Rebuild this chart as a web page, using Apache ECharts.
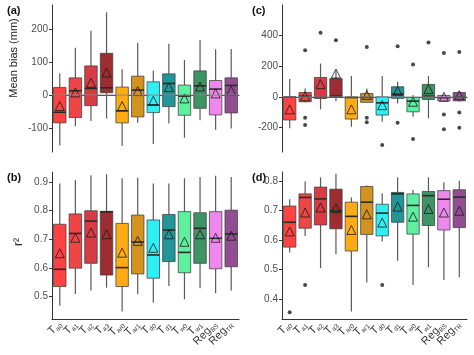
<!DOCTYPE html>
<html><head><meta charset="utf-8">
<script src="https://cdn.jsdelivr.net/npm/echarts@6/dist/echarts.min.js"></script>
<style>html,body{margin:0;padding:0;background:#fff}#c{width:474px;height:355px}</style>
</head><body><div id="c"></div>
<script>
// Categories: [main letter, subscript]
const categories = [['T','a0'],['T','a1'],['T','a2'],['T','a3'],['T','ar0'],['T','ar1'],['T','d0'],['T','d1'],['T','w0'],['T','w1'],['Reg','BS'],['Reg','TR']];
const boxColors = ['#FF3333','#EE3535','#D42A33','#951B1F','#FFA500','#CF8A0C','#1CEEF2','#0E8C8F','#50EE98','#2E8B57','#EE7EEA','#8A3F8A'];

// Panel (a): Mean bias (mm) — [lower whisker, Q1, median, Q3, upper whisker]
const biasA = [[-152,-84,-52,23,65],[-94,-68,13,52,143],[-78,-32,20,88,194],[-71,7,22,126,250],[-154,-84,-48,24,78],[-84,-66,15,57,158],[-148,-53,-30,40,74],[-86,-35,35,64,155],[-129,-61,-3,30,106],[-76,-40,28,73,166],[-105,-60,18,44,138],[-101,-54,29,52,139]];
const meanA = [-33,8,37,68,-33,12,-17,24,-10,26,5,13];
const outA = [];

// Panel (b): r2
const r2B = [[0.468,0.535,0.595,0.752,0.894],[0.509,0.599,0.72,0.788,0.906],[0.521,0.616,0.763,0.799,0.923],[0.531,0.575,0.795,0.797,0.926],[0.448,0.535,0.601,0.755,0.912],[0.509,0.579,0.69,0.784,0.914],[0.479,0.564,0.645,0.767,0.894],[0.537,0.622,0.732,0.786,0.894],[0.491,0.583,0.654,0.796,0.912],[0.529,0.616,0.738,0.792,0.917],[0.512,0.597,0.703,0.796,0.921],[0.521,0.604,0.718,0.801,0.917]];
const meanB = [0.651,0.705,0.723,0.717,0.653,0.694,0.670,0.717,0.691,0.717,0.705,0.712];
const outB = [];

// Panel (c): Mean bias (mm)
const biasC = [[-204,-150,-2,0,116],[-36,-32,4,28,54],[-81,-10,-4,125,215],[-28,0,5,118,168],[-193,-144,-5,0,135],[-40,-36,-4,22,54],[-161,-118,-39,0,134],[-43,-10,17,65,97],[-129,-97,-28,-4,11],[-139,-17,4,80,134],[-32,-26,-6,9,14],[-32,-26,0,28,36]];
const meanC = [-81,4,82,151,-81,11,-54,37,-32,50,0,11];
const outC = [[1,301],[1,-135],[1,-183],[2,415],[3,366],[5,322],[5,-135],[5,-165],[6,-312],[7,327],[7,-168],[8,209],[8,-273],[9,351],[10,284],[10,-114],[10,-210],[11,290],[11,-101],[11,-200]];

// Panel (d): r2
const r2D = [[0.558,0.576,0.660,0.715,0.738],[0.614,0.640,0.744,0.756,0.798],[0.505,0.651,0.739,0.779,0.812],[0.552,0.638,0.699,0.772,0.824],[0.358,0.563,0.68,0.728,0.744],[0.456,0.619,0.728,0.781,0.784],[0.595,0.614,0.691,0.721,0.758],[0.530,0.660,0.756,0.761,0.812],[0.448,0.620,0.717,0.756,0.770],[0.508,0.649,0.750,0.764,0.812],[0.465,0.634,0.738,0.767,0.795],[0.474,0.642,0.745,0.770,0.800]];
const meanD = [0.629,0.693,0.710,0.708,0.634,0.687,0.659,0.713,0.679,0.705,0.693,0.699];
const outD = [[0,0.356],[1,0.448],[6,0.448]];

const ticksA = [-100,0,100,200];
const ticksB = [0.5,0.6,0.7,0.8,0.9];
const ticksC = [-200,0,200,400];
const ticksD = [0.4,0.5,0.6,0.7,0.8];

const FONT = 'Liberation Sans';
const axisCol = '#333';
const catNames = categories.map((c,i)=>String(i));

const grids = [
  {left:52, top:5, width:187, height:147},
  {left:52, top:172, width:187, height:147},
  {left:282, top:5, width:185, height:147},
  {left:282, top:172, width:185, height:147}
];
const yRanges = [[-172,272,ticksA],[0.422,0.934,ticksB],[-357,594,ticksC],[0.333,0.83,ticksD]];
const showLabels = [false,true,false,true];

const xAxes = grids.map((g,i)=>({
  type:'category', gridIndex:i, data:catNames, boundaryGap:true,
  axisLine:{lineStyle:{color:axisCol,width:1}},
  axisTick:{alignWithLabel:true,length:3,lineStyle:{color:axisCol}},
  axisLabel:{show:showLabels[i], rotate:45, margin:4, interval:0,
    formatter:(v)=>{const c=categories[+v];return '{t|'+c[0]+'}{s|'+c[1]+'}';},
    rich:{t:{fontFamily:FONT,fontSize:11,color:'#333',verticalAlign:'bottom'},s:{fontFamily:FONT,fontSize:6.5,color:'#333',verticalAlign:'bottom',padding:[0,0,-1,0]}}},
  splitLine:{show:false}
}));
const yAxes = yRanges.map((r,i)=>({
  type:'value', gridIndex:i, min:r[0], max:r[1],
  axisLine:{show:true,lineStyle:{color:axisCol,width:1}},
  axisTick:{show:true,length:3,customValues:r[2],lineStyle:{color:axisCol}},
  axisLabel:{customValues:r[2],fontFamily:FONT,fontSize:10,color:'#4d4d4d',margin:4,
    formatter:(v)=> (i%2===1)? v.toFixed(1) : String(v)},
  splitLine:{show:false}
}));

function boxSeries(idx, stats, zeroLine){
  const s = {
    type:'custom', xAxisIndex:idx, yAxisIndex:idx, z:2, silent:true,
    encode:{x:0, y:[1,2,3,4,5]},
    data: stats.map((d,i)=>[i].concat(d)),
    renderItem:function(params, api){
      const i = api.value(0);
      const bw = api.size([1,0])[0]*0.8;
      const pMin = api.coord([i, api.value(1)]);
      const pQ1 = api.coord([i, api.value(2)]);
      const pMed = api.coord([i, api.value(3)]);
      const pQ3 = api.coord([i, api.value(4)]);
      const pMax = api.coord([i, api.value(5)]);
      const x = pMed[0];
      const wl = {stroke:'#5a5a5a', lineWidth:1.2};
      return {type:'group', children:[
        {type:'line', shape:{x1:x,y1:pMax[1],x2:x,y2:pQ3[1]}, style:wl},
        {type:'line', shape:{x1:x,y1:pQ1[1],x2:x,y2:pMin[1]}, style:wl},
        {type:'rect', shape:{x:x-bw/2, y:pQ3[1], width:bw, height:pQ1[1]-pQ3[1]},
          style:{fill:boxColors[i], opacity:0.92, stroke:'#3a3a3a', lineWidth:0.8}},
        {type:'line', shape:{x1:x-bw/2,y1:pMed[1],x2:x+bw/2,y2:pMed[1]}, style:{stroke:'#2a2a2a', lineWidth:1.6}}
      ]};
    }
  };
  if(zeroLine){
    s.markLine = {silent:true, symbol:'none', label:{show:false}, z:5,
      lineStyle:{color:'rgba(140,140,140,0.6)', width:1.5, type:'solid'},
      data:[{yAxis:0}]};
  }
  return s;
}
function meanSeries(idx, means){
  return {type:'scatter', xAxisIndex:idx, yAxisIndex:idx, z:4, symbol:'triangle', symbolSize:9,
    itemStyle:{color:'rgba(0,0,0,0)', borderColor:'#1a1a1a', borderWidth:1},
    data: means.map((m,i)=>[i,m]), silent:true};
}
function outSeries(idx, pts){
  return {type:'scatter', xAxisIndex:idx, yAxisIndex:idx, z:4, symbol:'circle', symbolSize:4,
    itemStyle:{color:'#1a1a1a'}, data: pts, silent:true};
}

const series = [
  boxSeries(0,biasA,true), meanSeries(0,meanA), outSeries(0,outA),
  boxSeries(1,r2B,false), meanSeries(1,meanB), outSeries(1,outB),
  boxSeries(2,biasC,true), meanSeries(2,meanC), outSeries(2,outC),
  boxSeries(3,r2D,false), meanSeries(3,meanD), outSeries(3,outD)
];

const chart = echarts.init(document.getElementById('c'), null, {renderer:'canvas'});
chart.setOption({
  animation:false,
  backgroundColor:'#fff',
  grid:grids,
  xAxis:xAxes,
  yAxis:yAxes,
  series:series,
  graphic:[
    {type:'text', left:7, top:5, style:{text:'(a)', font:'bold 11px "Liberation Sans"', fill:'#111'}},
    {type:'text', left:7, top:172, style:{text:'(b)', font:'bold 11px "Liberation Sans"', fill:'#111'}},
    {type:'text', left:252, top:5, style:{text:'(c)', font:'bold 11px "Liberation Sans"', fill:'#111'}},
    {type:'text', left:252, top:172, style:{text:'(d)', font:'bold 11px "Liberation Sans"', fill:'#111'}},
    {type:'text', x:8, y:58, rotation:Math.PI/2, style:{text:'Mean bias (mm)', font:'11px "Liberation Sans"', fill:'#222', align:'center', verticalAlign:'top'}},
    {type:'text', x:13, y:242, rotation:Math.PI/2, style:{text:'r²', font:'12px "Liberation Sans"', fill:'#222', align:'center', verticalAlign:'top'}}
  ]
});
</script>
</body></html>
